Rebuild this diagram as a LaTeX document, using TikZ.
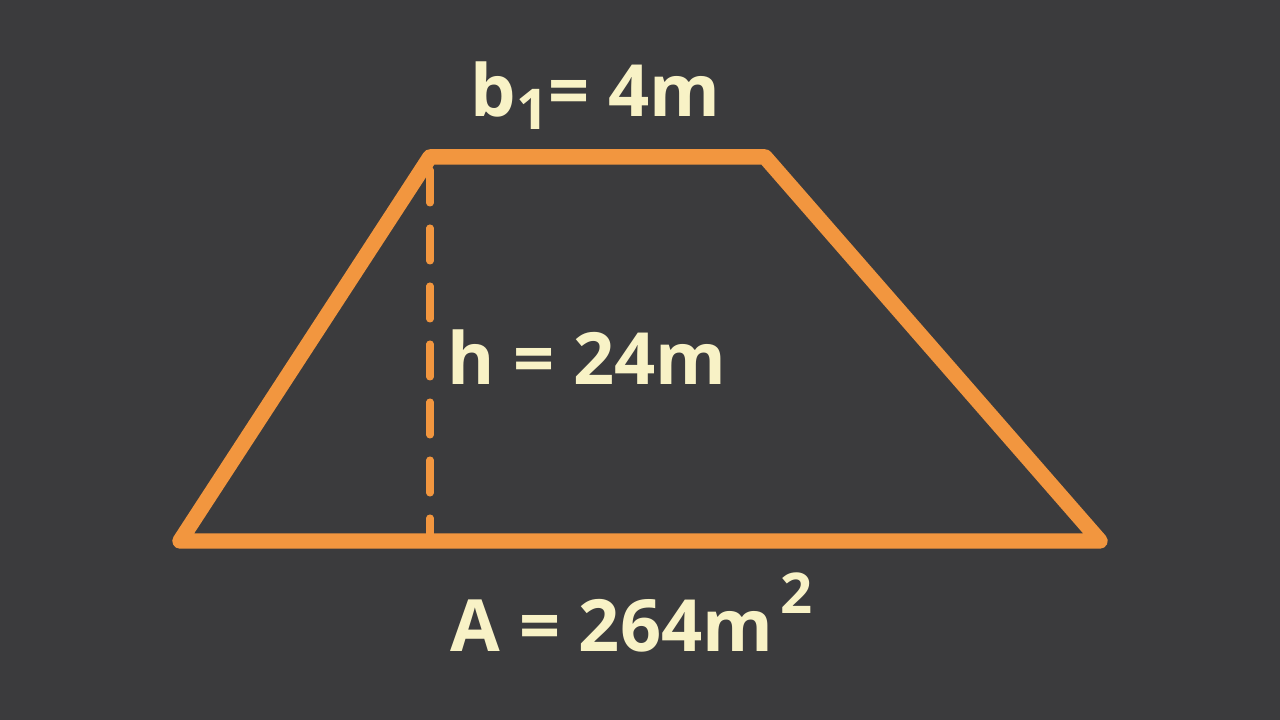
\documentclass[tikz,border=0pt]{standalone}
\usepackage{fontspec}
\setmainfont{Open Sans}
\usepackage{tikz}

\definecolor{board}{HTML}{3B3B3D}
\definecolor{chalkorange}{HTML}{F2963F}
\definecolor{chalkcream}{HTML}{F8F2C6}

\tikzset{
    edge/.style={draw=chalkorange, line width=4.4pt, line cap=round, line join=round},
    height line/.style={draw=chalkorange, line width=2pt, dash pattern=on 0.33cm off 0.25cm, line cap=round},
    label/.style={text=chalkcream, font=\fontsize{20.5}{20.5}\selectfont\bfseries, inner sep=0pt, anchor=base west}
}

\begin{document}
\begin{tikzpicture}
\fill[board] (0,0) rectangle (12.8,7.2);
\useasboundingbox (0,0) rectangle (12.8,7.2);

\coordinate (bl) at (1.80,1.79);
\coordinate (br) at (11.00,1.79);
\coordinate (tl) at (4.30,5.63);
\coordinate (tr) at (7.65,5.63);
\coordinate (foot) at (4.30,1.79);
\coordinate (top) at (4.30,5.50);

\draw[height line] (top) -- (foot);
\draw[edge] (bl) -- (tl) -- (tr) -- (br) -- cycle;

\node[label] (base) at (4.70,6.03) {b\raisebox{-3.7pt}{\fontsize{16}{16}\selectfont 1}= 4m};
\node[label] (height) at (4.47,3.35) {h = 24m};
\node[label] (area) at (4.50,0.68) {A = 264m\kern2pt\raisebox{11pt}{\fontsize{16}{16}\selectfont 2}};
\end{tikzpicture}
\end{document}
